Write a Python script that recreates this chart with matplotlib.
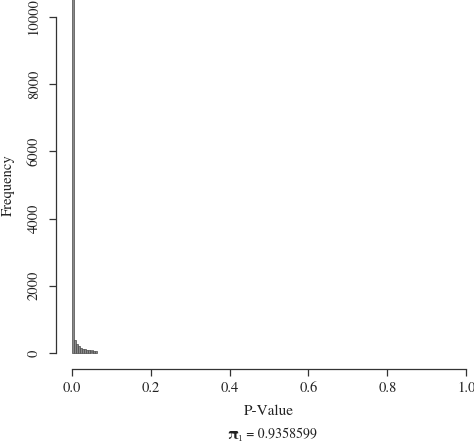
import numpy as np
import matplotlib
matplotlib.use("Agg")
import matplotlib.pyplot as plt

# Histograma de p-valores (estilo R base)
bin_width = 0.005
bin_left = [0.000, 0.005, 0.010, 0.015, 0.020, 0.025, 0.030,
            0.035, 0.040, 0.045, 0.050, 0.055, 0.060]
counts = [12000, 380, 250, 200, 160, 130, 110, 100, 90, 80, 75, 70, 65]

x_ticks = [0.0, 0.2, 0.4, 0.6, 0.8, 1.0]
x_labels = ["0.0", "0.2", "0.4", "0.6", "0.8", "1.0"]
y_ticks = [0, 2000, 4000, 6000, 8000, 10000]
y_labels = ["0", "2000", "4000", "6000", "8000", "10000"]
pi1 = "0.9358599"

plt.rcParams['font.family'] = ['TeX Gyre Termes', 'Liberation Serif', 'DejaVu Serif']

W, H = 474, 441
fig = plt.figure(figsize=(W / 100, H / 100), dpi=100)
# region de la grafica en pixeles
left_px, right_px, bottom_px = 56, 482, 369
ax = fig.add_axes([left_px / W, (H - bottom_px) / H, (right_px - left_px) / W, bottom_px / H])

ax.bar(bin_left, counts, width=bin_width, align='edge',
       color='#8a8a8a', edgecolor='#4a4a4a', linewidth=0.5)

ax.set_xlim(-0.04, 1.04)
ax.set_ylim(-480, 10506)

for s in ['top', 'right']:
    ax.spines[s].set_visible(False)
ax.spines['bottom'].set_bounds(0, 1)
ax.spines['left'].set_bounds(0, 10000)
for s in ['bottom', 'left']:
    ax.spines[s].set_color('#333333')
    ax.spines[s].set_linewidth(0.9)

ax.set_xticks(x_ticks)
ax.set_xticklabels(x_labels)
ax.set_yticks(y_ticks)
ax.set_yticklabels(y_labels, rotation=90, va='center')
ax.tick_params(axis='both', direction='out', length=5, width=0.9, colors='#333333',
               labelsize=10.5, labelcolor='#222222')
ax.tick_params(axis='x', pad=4)
ax.tick_params(axis='y', pad=6)

fig.text(269 / W, 1 - 411 / H, "P-Value", ha='center', va='center', fontsize=11, color='#222222')
fig.text(233 / W, 1 - 435 / H, "\u03c0", ha='center', va='center', fontsize=12,
         fontweight='bold', color='#222222')
fig.text(238 / W, 1 - 434 / H, "\u2081 = " + pi1, ha='left', va='center',
         fontsize=10, color='#222222')
fig.text(8 / W, 1 - 185 / H, "Frequency", rotation=90, ha='center', va='center',
         fontsize=10.5, color='#222222')

fig.savefig("out.png", dpi=100)
